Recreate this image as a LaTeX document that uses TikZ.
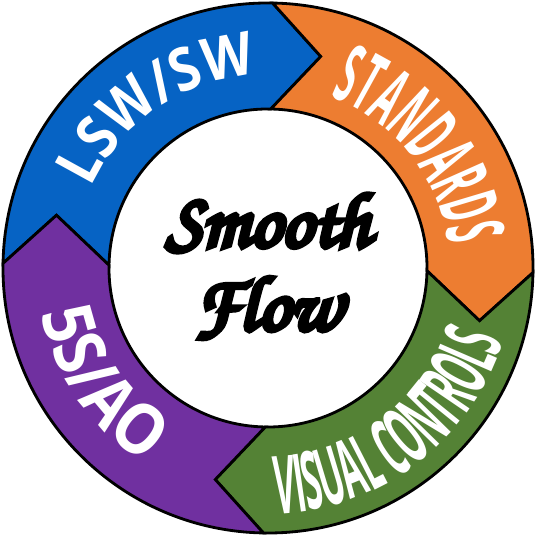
\documentclass[tikz,border=0pt]{standalone}
\usepackage{fontspec}
\usepackage{tikz}
\usetikzlibrary{decorations.text}

\newfontfamily\ringfont[FakeStretch=0.88]{Open Sans}
\newfontfamily\narrowfont[FakeStretch=0.41]{Open Sans}
\newfontfamily\brushfont[FakeBold=7]{texgyrechorus-mediumitalic.otf}

\definecolor{lswblue}{RGB}{6,99,196}
\definecolor{stdorange}{RGB}{237,125,49}
\definecolor{vcgreen}{RGB}{84,130,53}
\definecolor{aopurple}{RGB}{112,48,160}

\tikzset{
  seg/.style={draw=black,line width=0.8pt,line join=miter},
  ringtext/.style={decorate,decoration={text along path,text align=center,text color=white,text={#1}}}
}

\begin{document}
\begin{tikzpicture}
  \useasboundingbox (-2.68,-2.70) rectangle (2.67,2.68);
  % arrow segments of the ring
  \filldraw[seg,fill=lswblue] (179:2.65) arc[start angle=179,end angle=89,radius=2.65]
    -- (76:2.18) -- (89:1.59) arc[start angle=89,end angle=179,radius=1.59] -- (166:2.18) -- cycle;
  \filldraw[seg,fill=stdorange] (89:2.65) arc[start angle=89,end angle=-1,radius=2.65]
    -- (-14:2.18) -- (-1:1.59) arc[start angle=-1,end angle=89,radius=1.59] -- (76:2.18) -- cycle;
  \filldraw[seg,fill=vcgreen] (-1:2.65) arc[start angle=-1,end angle=-91,radius=2.65]
    -- (-104:2.18) -- (-91:1.59) arc[start angle=-91,end angle=-1,radius=1.59] -- (-14:2.18) -- cycle;
  \filldraw[seg,fill=aopurple] (-91:2.65) arc[start angle=-91,end angle=-181,radius=2.65]
    -- (166:2.18) -- (179:1.59) arc[start angle=179,end angle=269,radius=1.59] -- (-104:2.18) -- cycle;
  % labels on the ring
  \path[ringtext={|\ringfont\bfseries\fontsize{17}{20}\selectfont|LSW/SW}]
    (184.5:1.94) arc[start angle=184.5,end angle=64.5,radius=1.94];
  \path[ringtext={|\narrowfont\bfseries\fontsize{23}{27}\selectfont|STANDARDS}]
    (98.5:1.82) arc[start angle=98.5,end angle=-21.5,radius=1.82];
  \path[ringtext={|\narrowfont\bfseries\fontsize{23}{27}\selectfont|VISUAL CONTROLS}]
    (-122.5:2.46) arc[start angle=-122.5,end angle=17.5,radius=2.46];
  \path[ringtext={|\ringfont\bfseries\fontsize{20}{24}\selectfont|5S/AO}]
    (154.5:2.31) arc[start angle=154.5,end angle=274.5,radius=2.31];
  % centre
  \node (smooth) at (0,0.45) {\brushfont\fontsize{22}{26}\selectfont Smooth};
  \node (flow) at (0,-0.40) {\brushfont\fontsize{22}{26}\selectfont Flow};
\end{tikzpicture}
\end{document}
